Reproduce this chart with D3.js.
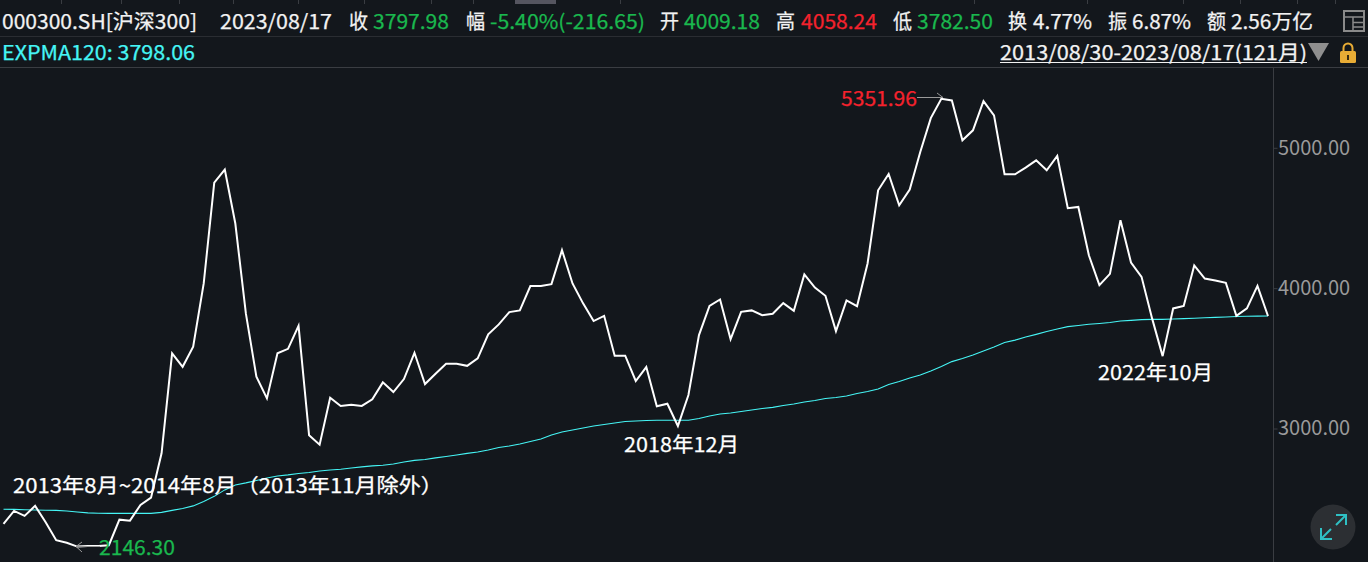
<!DOCTYPE html>
<html><head><meta charset="utf-8">
<script src="https://d3js.org/d3.v7.min.js"></script>
<style>html,body{margin:0;padding:0;background:#13171c;overflow:hidden}svg{display:block}text{font-family:"Noto Sans CJK SC","Noto Sans",sans-serif;paint-order:stroke}</style>
</head><body><div id="c"></div>
<script>
const closeValues=[2317,2409,2374,2445,2329,2201,2182,2155,2160,2160,2165,2347,2340,2452,2504,2820,3532,3436,3579,4030,4749,4841,4457,3816,3365,3211,3532,3564,3728,2948,2881,3216,3157,3166,3157,3204,3325,3256,3349,3536,3313,3387,3458,3458,3443,3496,3667,3738,3826,3838,4011,4011,4025,4267,4030,3888,3762,3799,3515,3515,3335,3434,3155,3173,3014,3235,3662,3870,3916,3633,3828,3838,3804,3814,3890,3835,4094,4001,3942,3690,3909,3868,4172,4694,4810,4587,4699,4966,5208,5346,5334,5050,5121,5329,5228,4808,4808,4855,4907,4836,4938,4566,4575,4231,4018,4098,4480,4179,4077,3781,3512,3852,3870,4158,4065,4051,4034,3799,3852,4013,3797.98];
const expmaValues=[2421,2420,2418,2416,2414,2413,2409,2402,2395,2393,2392,2392,2392,2392,2392,2399,2413,2427,2445,2477,2513,2559,2594,2609,2626,2644,2658,2666,2676,2683,2694,2701,2706,2715,2723,2730,2735,2744,2758,2769,2776,2787,2797,2808,2819,2829,2843,2861,2872,2886,2904,2922,2950,2972,2986,3000,3014,3025,3036,3046,3050,3053,3055,3055,3055,3055,3068,3085,3100,3107,3117,3128,3139,3147,3160,3171,3185,3196,3210,3217,3228,3246,3260,3278,3310,3331,3356,3377,3406,3438,3473,3495,3520,3548,3577,3609,3626,3648,3667,3687,3706,3722,3730,3739,3745,3752,3762,3767,3772,3774,3774,3777,3779,3782,3785,3788,3791,3794,3796,3797,3798.06];
const yTicks=[3000,4000,5000];
const TXT="#f2f2f2",GREEN="#1ab84e",RED="#f5222d",CYAN="#45f5f5";
const headerItems=[["000300.SH[沪深300]",2,195,TXT],["2023/08/17",220,112,TXT],["收",349,19,TXT],["3797.98",373,76,GREEN],["幅",466,19,TXT],["-5.40%(-216.65)",490,155,GREEN],["开",660,19,TXT],["4009.18",684,76,GREEN],["高",776,19,TXT],["4058.24",801,76,RED],["低",893,19,TXT],["3782.50",917,76,GREEN],["换",1008,19,TXT],["4.77%",1033,59,TXT],["振",1108,19,TXT],["6.87%",1132,59,TXT],["额",1207,19,TXT],["2.56万亿",1231,82,TXT]];
const topTicks=[61,121,179,233,298,364,431,473,620,974,1087,1183,1240,1297,1335];
const notes=[["2013年8月~2014年8月（2013年11月除外）",13,430,493],["2018年12月",624,115,452],["2022年10月",1098,115,380]];

const W=1368,H=562;
const svg=d3.select("#c").append("svg").attr("width",W).attr("height",H);
const x=d3.scaleLinear().domain([0,120]).range([3.5,1268]);
const y=d3.scaleLinear().domain([3000,5000]).range([428,147.3]);
const BORDER="#3a3d42";
const txt=(s,xp,w,yp,fill,size=20)=>svg.append("text").attr("x",xp).attr("y",yp).attr("fill",fill).attr("stroke",fill).attr("stroke-width",.25).attr("font-size",size).attr("textLength",w).attr("lengthAdjust","spacingAndGlyphs").text(s);

svg.selectAll(".tt").data(topTicks).join("line").attr("x1",d=>d+.5).attr("x2",d=>d+.5).attr("y1",0).attr("y2",4).attr("stroke",BORDER);
svg.append("rect").attr("x",515).attr("y",0).attr("width",41).attr("height",4).attr("fill","#55555f");
svg.append("line").attr("x1",0).attr("x2",W).attr("y1",36.5).attr("y2",36.5).attr("stroke","#2a2d32");
svg.append("line").attr("x1",0).attr("x2",W).attr("y1",67.5).attr("y2",67.5).attr("stroke",BORDER);
svg.append("line").attr("x1",1273.5).attr("x2",1273.5).attr("y1",67).attr("y2",H).attr("stroke",BORDER);

headerItems.forEach(d=>txt(d[0],d[1],d[2],29,d[3]));
txt("EXPMA120: 3798.06",2,193,60,CYAN);
txt("2013/08/30-2023/08/17(121月)",1000,307,60,TXT);
svg.append("line").attr("x1",1000).attr("x2",1307).attr("y1",62.5).attr("y2",62.5).attr("stroke",TXT);

const yAxis=d3.axisRight(y).tickValues(yTicks).tickSize(4).tickPadding(2).tickFormat(d3.format(".2f"));
const ag=svg.append("g").attr("transform","translate(1273.5,0.5)").call(yAxis);
ag.select(".domain").remove();
ag.selectAll("line").attr("stroke",BORDER);
ag.selectAll("text").attr("fill","#9a9a9a").attr("font-size",20).attr("x",4.5);

const line=d3.line().x((d,i)=>x(i)).y(d=>y(d));
svg.append("path").datum(expmaValues).attr("d",line).attr("fill","none").attr("stroke",CYAN).attr("stroke-width",1.1);
svg.append("path").datum(closeValues).attr("d",line).attr("fill","none").attr("stroke","#ffffff").attr("stroke-width",2);

notes.forEach(d=>txt(d[0],d[1],d[2],d[3],"#ffffff"));
txt("5351.96",841,76,106,RED);
txt("2146.30",99,76,555,GREEN);
const G="#9a9a9a";
svg.append("path").attr("d","M917 97.5H943M937 93L943 97.5").attr("fill","none").attr("stroke",G);
svg.append("path").attr("d","M100 546.5H76M82 542L76 546.5L82 552").attr("fill","none").attr("stroke",G);

svg.append("path").attr("d","M1308 43H1329L1318.5 61Z").attr("fill","#8f8f8f");
svg.append("rect").attr("x",1340).attr("y",51).attr("width",16).attr("height",12).attr("rx",1.5).attr("fill","#e8ac35");
svg.append("path").attr("d","M1343.5 51V48a4.5 4.5 0 0 1 9 0V51").attr("fill","none").attr("stroke","#e8ac35").attr("stroke-width",2);
svg.append("rect").attr("x",1347).attr("y",55).attr("width",2).attr("height",5).attr("fill","#3a2c10");
svg.append("rect").attr("x",1344).attr("y",11).attr("width",20).attr("height",20).attr("fill","none").attr("stroke","#8a8a8a").attr("stroke-width",2);
svg.append("path").attr("d","M1344 17H1364M1353 17V31M1353 22.5H1364M1353 27H1364").attr("fill","none").attr("stroke","#8a8a8a").attr("stroke-width",1.5);
svg.append("circle").attr("cx",1333).attr("cy",527).attr("r",22.5).attr("fill","#2c2f33");
svg.append("path").attr("d","M1336 525L1346 515M1336 515H1346V525M1331 529L1321 539M1321 528V539H1332").attr("fill","none").attr("stroke","#2fc0c4").attr("stroke-width",2);
</script></body></html>
